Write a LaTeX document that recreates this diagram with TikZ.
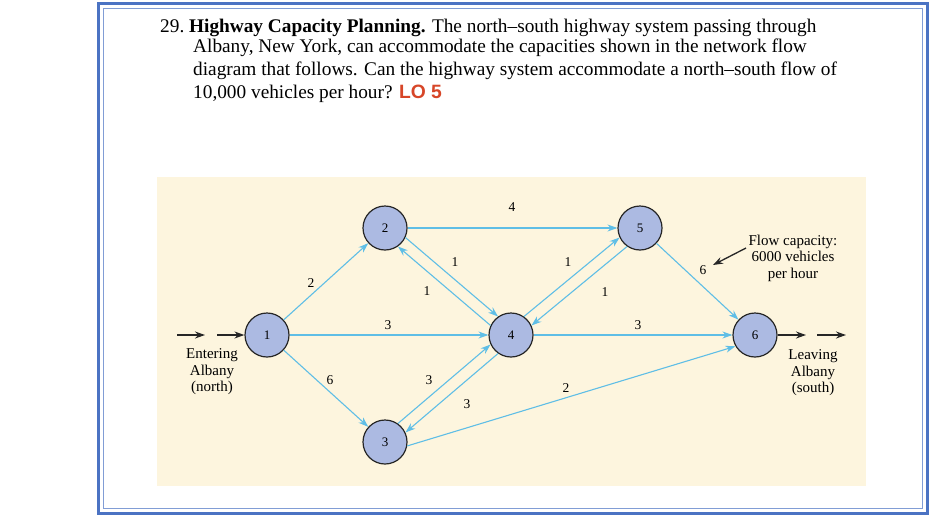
\documentclass[tikz,border=0pt]{standalone}
\usepackage{fontspec}
\setmainfont{Liberation Serif}
\newfontfamily\sansf{Liberation Sans}
\usetikzlibrary{arrows.meta}
\definecolor{frameblue}{RGB}{75,115,195}
\definecolor{panel}{RGB}{253,245,222}
\definecolor{edgeblue}{RGB}{95,190,230}
\definecolor{nodefill}{RGB}{172,186,226}
\definecolor{lored}{RGB}{215,70,40}
\tikzset{
  vert/.style={circle,draw=black!85,line width=1.2pt,fill=nodefill,minimum size=44pt,inner sep=0pt,font=\fontsize{13}{14}\selectfont},
  flow/.style={draw=edgeblue,line width=1.1pt,-{Stealth[length=10pt,width=7pt]}},
  lab/.style={font=\fontsize{13.5}{14}\selectfont,inner sep=0pt},
  txt/.style={anchor=west,inner sep=0pt,font=\fontsize{19.3}{21}\selectfont},
  side/.style={align=center,inner sep=0pt,font=\fontsize{15}{16.5}\selectfont},
  blk/.style={draw=black!85,line width=1.3pt,-{Stealth[length=10pt,width=7pt]}}
}
\begin{document}
\begin{tikzpicture}[x=1pt,y=-1pt]
\useasboundingbox (0,0) rectangle (952,525);
\fill[white] (0,0) rectangle (952,525);
\draw[frameblue,line width=3pt] (98,3) rectangle (927,513);
\draw[frameblue!70,line width=0.8pt] (103,8) rectangle (922,508);
\fill[panel] (157,177) rectangle (866,486);
% header
\node[txt] (t1) at (160,28) {29.\ \textbf{Highway Capacity Planning.} The north–south highway system passing through};
\node[txt] (t2) at (193,48) {Albany, New York, can accommodate the capacities shown in the network flow};
\node[txt] (t3) at (193,71) {diagram that follows. Can the highway system accommodate a north–south flow of};
\node[txt] (t4) at (193,94) {10,000 vehicles per hour? {\sansf\bfseries\color{lored}LO 5}};
% nodes
\node[vert] (n1) at (267,335) {1};
\node[vert] (n2) at (385,228) {2};
\node[vert] (n3) at (385,442) {3};
\node[vert] (n4) at (511,335) {4};
\node[vert] (n5) at (640,228) {5};
\node[vert] (n6) at (755,335) {6};
% edges
\draw[flow] (n1) -- (n2);
\draw[flow] (n1) -- (n4);
\draw[flow] (n1) -- (n3);
\draw[flow] (n2) -- (n5);
\draw[flow] (n2.-25) -- (n4.125);
\draw[flow] (n4.155) -- (n2.-55);
\draw[flow] (n3.55) -- (n4.-155);
\draw[flow] (n4.-125) -- (n3.25);
\draw[flow] (n4.55) -- (n5.-155);
\draw[flow] (n5.-125) -- (n4.25);
\draw[flow] (n4) -- (n6);
\draw[flow] (n5) -- (n6);
\draw[flow] (n3.-10) -- (n6.-150);
% labels
\node[lab] (l25) at (512,207) {4};
\node[lab] (l24) at (455,262) {1};
\node[lab] (l42) at (427,291) {1};
\node[lab] (l12) at (311,283) {2};
\node[lab] (l14) at (388,325) {3};
\node[lab] (l13) at (330,380) {6};
\node[lab] (l34) at (429,380) {3};
\node[lab] (l43) at (467,404) {3};
\node[lab] (l45) at (568,262) {1};
\node[lab] (l54) at (605,292) {1};
\node[lab] (l46) at (638,325) {3};
\node[lab] (l36) at (566,388) {2};
\node[lab] (l56) at (703,270) {6};
\node[side] (fc) at (793,258) {Flow capacity:\\6000 vehicles\\per hour};
\coordinate (fcs) at (746,248);
\coordinate (fce) at (713,265);
\draw[blk] (fcs) -- (fce);
\node[side] (ent) at (212,372) {Entering\\Albany\\(north)};
\node[side] (lev) at (813,373) {Leaving\\Albany\\(south)};
\coordinate (a1) at (177,335); \coordinate (a2) at (205,335); \coordinate (a3) at (217,335);
\draw[blk] (a1) -- (a2);
\draw[blk] (a3) -- (n1);
\coordinate (b2) at (806,335); \coordinate (b3) at (817,335); \coordinate (b4) at (846,335);
\draw[blk] (n6) -- (b2);
\draw[blk] (b3) -- (b4);
\end{tikzpicture}
\end{document}
